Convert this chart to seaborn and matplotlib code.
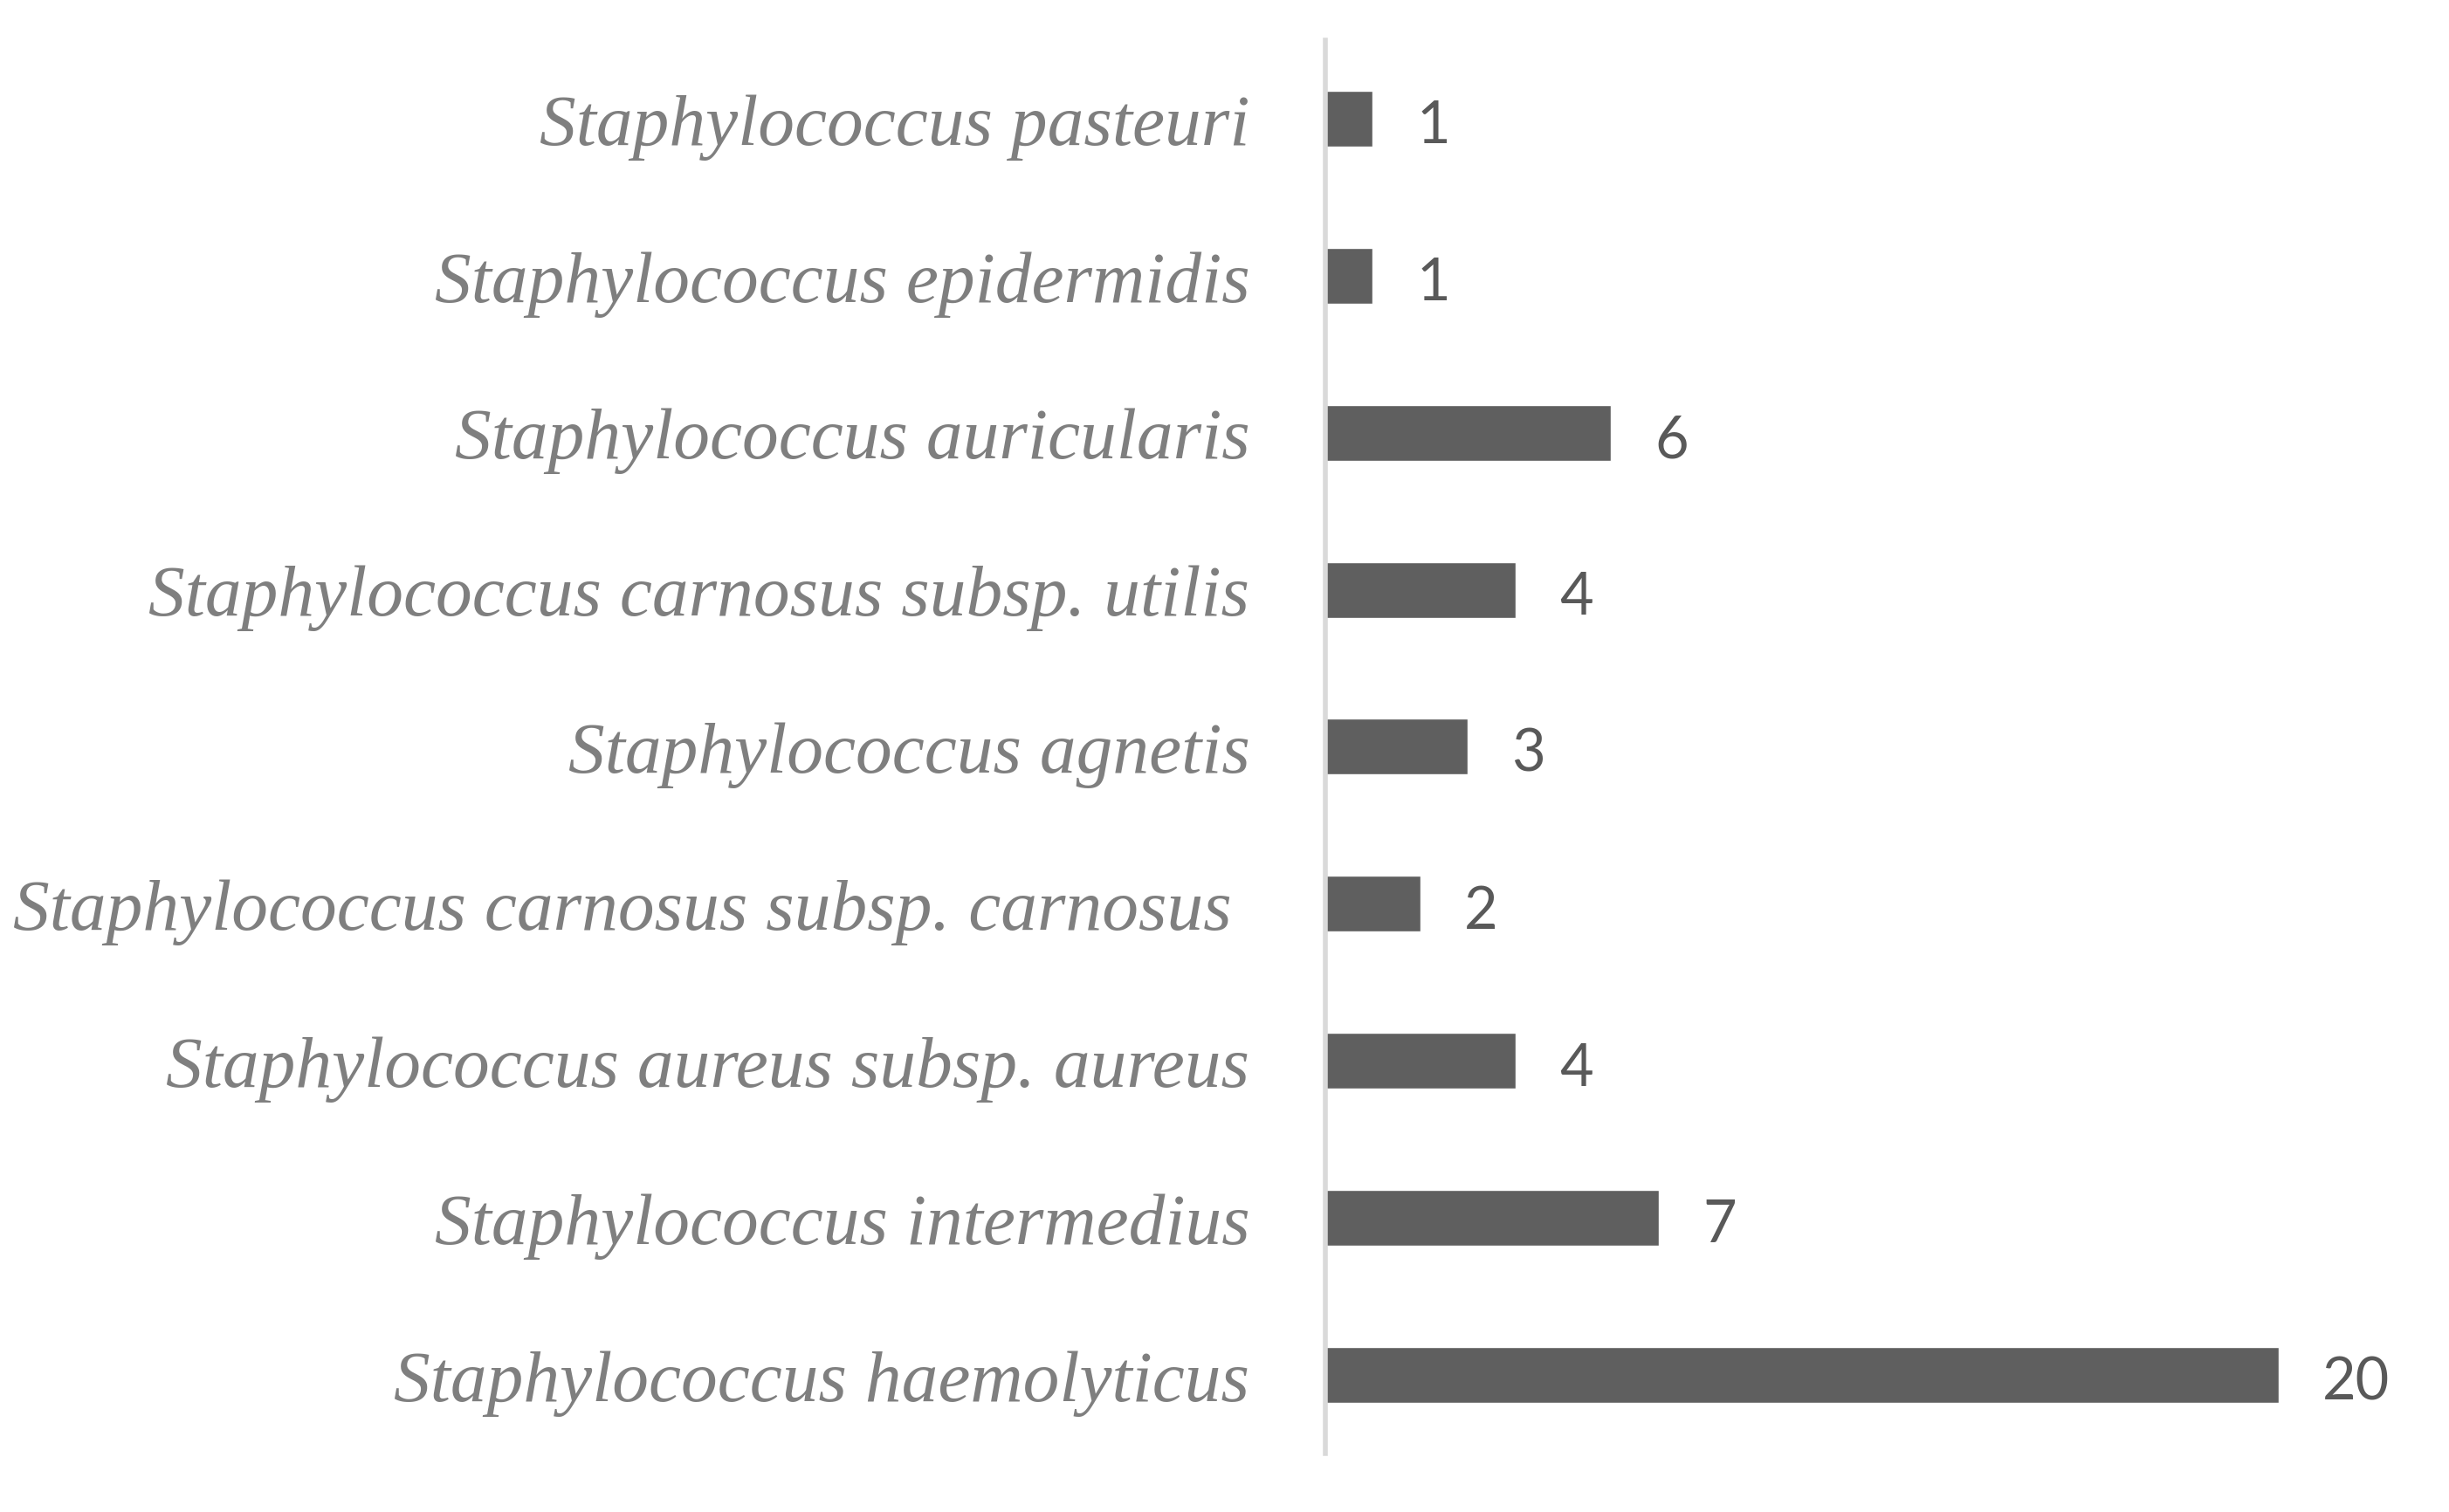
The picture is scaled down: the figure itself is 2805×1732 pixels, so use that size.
import matplotlib
matplotlib.use("Agg")
import matplotlib.pyplot as plt
import seaborn as sns
import pandas as pd

# species shown top to bottom
species = [
    "Staphylococcus pasteuri",
    "Staphylococcus epidermidis",
    "Staphylococcus auricularis",
    "Staphylococcus carnosus subsp. utilis",
    "Staphylococcus agnetis",
    "Staphylococcus carnosus subsp. carnosus ",
    "Staphylococcus aureus subsp. aureus",
    "Staphylococcus intermedius",
    "Staphylococcus haemolyticus",
]
counts = [1, 1, 6, 4, 3, 2, 4, 7, 20]

df = pd.DataFrame({"species": species, "count": counts})

sns.set_theme(style="white")

fig = plt.figure(figsize=(28.05, 17.33), dpi=100)
ax = fig.add_axes([0.541, 0.0387, 0.459, 0.9342])

sns.barplot(data=df, x="count", y="species", orient="h", color="#5f5f5f",
            saturation=1, width=0.356, ax=ax)

ax.set_xlim(0, 23.57)
ax.set_ylim(8.5, -0.5)
ax.set_xlabel("")
ax.set_ylabel("")
ax.set_xticks([])

for s in ["top", "right", "bottom"]:
    ax.spines[s].set_visible(False)
ax.spines["left"].set_color("#d9d9d9")
ax.spines["left"].set_linewidth(4)

ax.tick_params(axis="y", length=0, pad=62)
for lab in ax.get_yticklabels():
    lab.set_fontfamily("Liberation Serif")
    lab.set_fontstyle("italic")
    lab.set_fontsize(60)
    lab.set_color("#7f7f7f")

texts = ax.bar_label(ax.containers[0], labels=[str(c) for c in counts], padding=36,
                     fontsize=48, color="#595959", family="Lato")
# nudge value labels down a little, like the original
for t in texts:
    t.xyann = (t.xyann[0], -6)

fig.savefig("out.png", dpi=100)
